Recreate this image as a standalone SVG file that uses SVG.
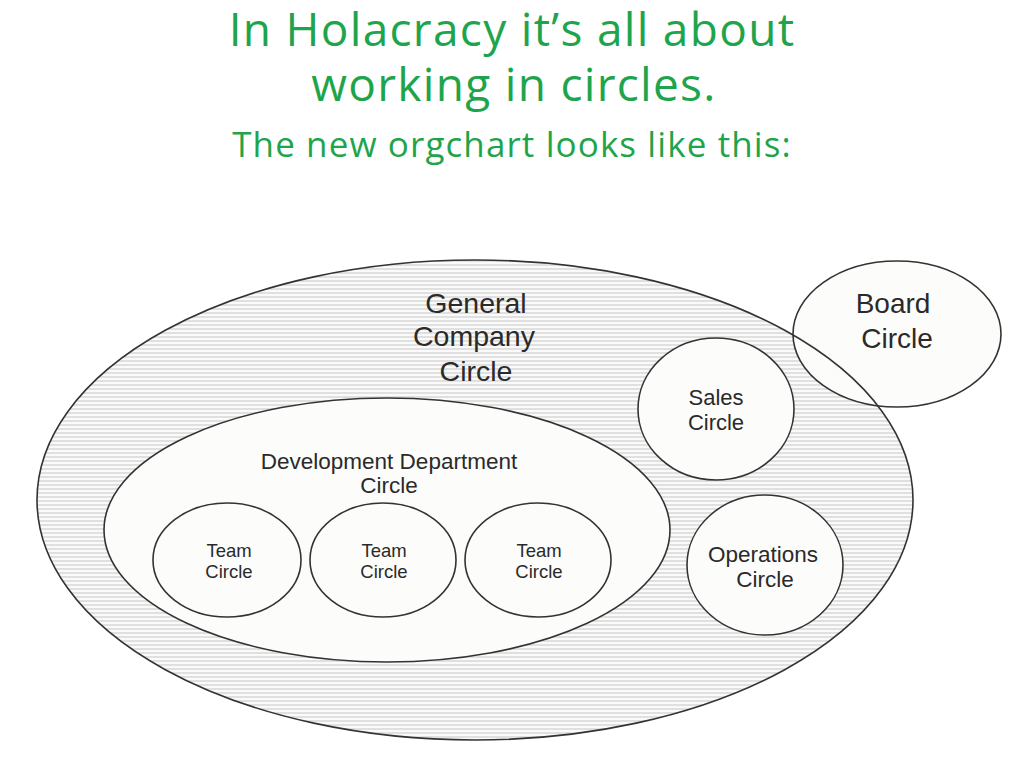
<svg xmlns="http://www.w3.org/2000/svg" width="1024" height="768" viewBox="0 0 1024 768">
<style>
.title{font-family:"Open Sans","Noto Sans",sans-serif;fill:#1ea54c;text-anchor:middle}
.lbl{font-family:"Liberation Sans",Arial,sans-serif;fill:#2a2a2a;text-anchor:middle}
.ln{fill:none;stroke:#333;stroke-width:1.6}
.wh{fill:#fcfcfa;stroke:#333;stroke-width:1.6}
</style>
<defs>
<pattern id="hatch" width="8" height="4" patternUnits="userSpaceOnUse">
<rect width="8" height="4" fill="#fafafa"/>
<line x1="0" y1="1" x2="8" y2="1" stroke="#cfcfcf" stroke-width="1.2"/>
</pattern>
</defs>
<rect width="1024" height="768" fill="#fff"/>
<g id="title">
<text class="title" x="512" y="46" font-size="46" letter-spacing="1.3">In Holacracy it’s all about</text>
<text class="title" x="514" y="101" font-size="46" letter-spacing="1.3">working in circles.</text>
<text class="title" x="512" y="157" font-size="35" letter-spacing="1.1">The new orgchart looks like this:</text>
</g>
<g id="general-company-circle">
<ellipse cx="475" cy="500" rx="438" ry="240" fill="url(#hatch)" stroke="none"/>
</g>
<g id="board-circle">
<ellipse cx="897" cy="334" rx="104" ry="73" class="wh"/>
<text class="lbl" x="893" y="313" font-size="28">Board</text>
<text class="lbl" x="897" y="348" font-size="28">Circle</text>
</g>
<g id="general-company-outline">
<ellipse cx="475" cy="500" rx="438" ry="240" class="ln"/>
<text class="lbl" x="476" y="313" font-size="28.5">General</text>
<text class="lbl" x="474" y="346" font-size="28.5">Company</text>
<text class="lbl" x="476" y="381" font-size="28.5">Circle</text>
</g>
<g id="development-department-circle">
<ellipse cx="387" cy="530" rx="283" ry="132" class="wh"/>
<text class="lbl" x="389" y="469" font-size="22.5">Development Department</text>
<text class="lbl" x="389" y="493" font-size="22.5">Circle</text>
</g>
<g id="team-circle-1">
<ellipse cx="227" cy="560" rx="74" ry="57" class="wh"/>
<text class="lbl" x="229" y="557" font-size="18.5">Team</text>
<text class="lbl" x="229" y="578" font-size="18.5">Circle</text>
</g>
<g id="team-circle-2">
<ellipse cx="383" cy="560" rx="73" ry="57" class="wh"/>
<text class="lbl" x="384" y="557" font-size="18.5">Team</text>
<text class="lbl" x="384" y="578" font-size="18.5">Circle</text>
</g>
<g id="team-circle-3">
<ellipse cx="538" cy="560" rx="73" ry="57" class="wh"/>
<text class="lbl" x="539" y="557" font-size="18.5">Team</text>
<text class="lbl" x="539" y="578" font-size="18.5">Circle</text>
</g>
<g id="sales-circle">
<ellipse cx="716" cy="409" rx="78" ry="71" class="wh"/>
<text class="lbl" x="716" y="405" font-size="22">Sales</text>
<text class="lbl" x="716" y="430" font-size="22">Circle</text>
</g>
<g id="operations-circle">
<ellipse cx="765" cy="565" rx="78" ry="70" class="wh"/>
<text class="lbl" x="763" y="562" font-size="22.5">Operations</text>
<text class="lbl" x="765" y="587" font-size="22.5">Circle</text>
</g>
<g id="connectors"/>
</svg>
